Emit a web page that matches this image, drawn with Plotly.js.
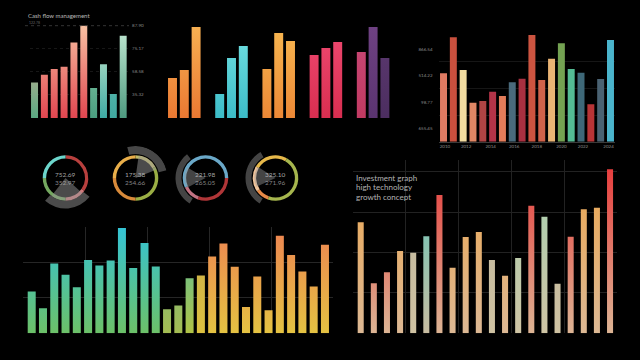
<!DOCTYPE html>
<html><head><meta charset="utf-8">
<script src="https://cdn.plot.ly/plotly-3.0.1.min.js"></script>
<style>html,body{margin:0;padding:0;background:#000;}#chart{width:640px;height:360px;}</style>
</head><body><div id="chart"></div>
<script>
// ---------- DATA ----------
// Chart 1: Cash flow management
const cashValues = [38.5, 46.8, 53.2, 55.4, 81.7, 100.7, 32.4, 58.3, 25.9, 89.2];
const cashTickVals = [100, 75.5, 50.4, 25.2];
const cashTickText = ['87.90', '75.17', '58.58', '35.32'];
// Chart 2: grouped bars
const groupOne = [40, 48, 91];
const groupTwo = [24, 60, 72];
const groupThree = [49, 85, 77];
const groupFour = [63, 70, 76];
const groupFive = [66, 91, 60];
// Chart 3: yearly bars
const yearlyValues = [205, 313, 215, 117, 122, 150, 137, 178, 189, 340, 185, 249, 295, 218, 207, 112, 188, 305];
const yearTickPos = [0.15, 2.3, 4.8, 7.2, 9.5, 12.0, 14.2, 16.8];
const yearTickText = ['2010', '2012', '2014', '2016', '2018', '2020', '2022', '2024'];
const yearlyTickVals = [278, 198, 118, 40];
const yearlyTickText = ['866.54', '514.22', '98.77', '655.45'];
// Donuts
const donut1Values = [34.7, 15.3, 25, 25];
const donut2Values = [16.7, 33.3, 25, 25];
const donut3Values = [30.6, 12.5, 56.9];
const donut4Values = [25, 47.2, 9.7, 18.1];
const donutTopLabels = ['752.69', '175.38', '221.98', '325.10'];
const donutBottomLabels = ['352.97', '254.66', '265.05', '271.96'];
// Chart 5: growth bars (bottom left)
const growthValues = [125, 75, 209, 175, 138, 219, 203, 218, 315, 195, 270, 200, 72, 83, 165, 173, 230, 269, 199, 79, 170, 69, 292, 234, 185, 140, 265];
// Chart 6: investment graph (bottom right)
const investValues = [333, 150, 183, 247, 242, 291, 415, 197, 289, 304, 220, 173, 226, 383, 350, 149, 290, 372, 377, 492];
const investTitleLines = ['Investment graph', 'high technology', 'growth concept'];

// ---------- STYLE ----------
const cashTop = ['#f6b49c', '#f8bea0', '#f8bea0', '#f8bea0', '#f8bea0', '#f8c0a2', '#98d4b0', '#d8f0d2', '#74c8b8', '#c4ead4'];
const cashBot = ['#5aa882', '#e04650', '#e04650', '#e04650', '#e04650', '#e04650', '#4a9e80', '#3eaaa4', '#40a8a0', '#4e9a80'];
const groupTop = ['#f8b454', '#78e4e4', '#f8ba52', '#f04c74', '#b04878'];
const groupBot = ['#ea7832', '#3cbcc8', '#ec8836', '#d82e50', '#c23a62'];
const groupFiveTop = ['#c84a78', '#704284', '#5e3a72'];
const groupFiveBot = ['#c23a62', '#5a3470', '#4c2e60'];
const yearlyColors = ['#e07a62', '#c9503e', '#f2dca0', '#e08664', '#b04444', '#b43448', '#e27c5a', '#4a6a7c', '#a83040', '#cc5440', '#d0624a', '#eab474', '#74a252', '#54bc94', '#3e6878', '#b83436', '#4a6272', '#4ab4cc'];
const growthTop = [];
const growthBot = [];
for (let i = 0; i < growthValues.length; i++) {
  if (i < 12) { growthTop.push('#34c4d6'); growthBot.push('#6cc068'); }
  else if (i < 14) { growthTop.push('#6cb890'); growthBot.push('#a4bc52'); }
  else if (i === 14) { growthTop.push('#4cc0a8'); growthBot.push('#b0c246'); }
  else if (i === 15) { growthTop.push('#c8ac4a'); growthBot.push('#dcc040'); }
  else { growthTop.push('#ee8452'); growthBot.push('#e4c242'); }
}
const investFamily = ['O','R','R','O','S','T','R','O','O','O','S','O','G','R','G','S','R','O','O','R'];
const famTop = {O:'#eea64c', R:'#e8383a', S:'#bcb49c', T:'#52c8c0', G:'#a4d4b4'};
const famBot = {O:'#dcb894', R:'#dcb494', S:'#cfc2a2', T:'#c8bca0', G:'#cfc4a4'};
const donutColors = [
  ['#b8403e', '#d07a7c', '#74a860', '#6cd6cc'],
  ['#c4bc66', '#9aae44', '#d88a3a', '#e8ae4a'],
  ['#b03638', '#c27282', '#6aa8c8'],
  ['#e6b84a', '#a6b64e', '#e88a46', '#f0c49a']
];
const donutStart = [0, 0, 90, 300];
const donutCenters = [65.5, 135.5, 205.5, 275.5];
const donutCY = 178;
const wedges = [
  [{a0:132, a1:218, r0:0, r1:22.8, c:'rgba(150,150,150,0.5)'}, {a0:128, a1:222, r0:22.8, r1:30.5, c:'rgba(100,100,100,0.75)'}],
  [{a0:8, a1:68, r0:0, r1:22.8, c:'rgba(150,150,150,0.5)'}, {a0:-15, a1:76, r0:24, r1:32, c:'rgba(95,95,95,0.75)'}],
  [{a0:242, a1:300, r0:0, r1:21, c:'rgba(150,150,150,0.45)'}, {a0:212, a1:322, r0:24, r1:30, c:'rgba(85,85,85,0.8)'}],
  [{a0:245, a1:302, r0:0, r1:21, c:'rgba(150,150,150,0.45)'}, {a0:212, a1:330, r0:24, r1:30, c:'rgba(85,85,85,0.8)'}]
];

const W = 640, H = 360;
const px = v => v / W;
const py = v => 1 - v / H;

const data = [];
const gradients = {};

// Chart 1
data.push({type:'bar', x: cashValues.map((_, i) => i), y: cashValues, xaxis:'x', yaxis:'y', width:0.71,
  marker:{color:'#e06060', line:{width:0}}, cliponaxis:false});
gradients[data.length - 1] = {axis:'yaxis', top: cashTop, bot: cashBot};

// Chart 2
[groupOne, groupTwo, groupThree, groupFour, groupFive].forEach((grp, g) => {
  data.push({type:'bar', x: grp.map((_, j) => g * 4 + j), y: grp, xaxis:'x2', yaxis:'y2', width:0.76,
    marker:{color: groupTop[g], line:{width:0}}, cliponaxis:false});
  gradients[data.length - 1] = g === 4
    ? {axis:'yaxis2', top: groupFiveTop, bot: groupFiveBot}
    : {axis:'yaxis2', top: grp.map(() => groupTop[g]), bot: grp.map(() => groupBot[g])};
});

// Chart 3
data.push({type:'bar', x: yearlyValues.map((_, i) => i), y: yearlyValues, xaxis:'x3', yaxis:'y3', width:0.71,
  marker:{color: yearlyColors, line:{width:0}}, cliponaxis:false});

// Chart 5
data.push({type:'bar', x: growthValues.map((_, i) => i), y: growthValues, xaxis:'x4', yaxis:'y4', width:0.71,
  marker:{color:'#40c0c0', line:{width:0}}, cliponaxis:false});
gradients[data.length - 1] = {axis:'yaxis4', top: growthTop, bot: growthBot};

// Chart 6
data.push({type:'bar', x: investValues.map((_, i) => i), y: investValues, xaxis:'x5', yaxis:'y5', width:0.46,
  marker:{color:'#e0a050', line:{width:0}}, cliponaxis:false});
gradients[data.length - 1] = {axis:'yaxis5', top: investFamily.map(f => famTop[f]), bot: investFamily.map(f => famBot[f])};

// Donuts
const donutSets = [donut1Values, donut2Values, donut3Values, donut4Values];
const polars = {};
donutSets.forEach((vals, d) => {
  const name = d === 0 ? 'polar' : 'polar' + (d + 1);
  const cx = donutCenters[d];
  polars[name] = {
    domain:{x:[px(cx - 32), px(cx + 32)], y:[py(donutCY + 32), py(donutCY - 32)]},
    bgcolor:'rgba(0,0,0,0)',
    radialaxis:{visible:false, range:[0, 32]},
    angularaxis:{visible:false, rotation:90, direction:'clockwise'}
  };
  const total = vals.reduce((a, b) => a + b, 0);
  let acc = donutStart[d];
  const theta = [], width = [];
  vals.forEach(v => { const w = v / total * 360; theta.push(acc + w / 2); width.push(w); acc += w; });
  data.push({type:'barpolar', subplot:name, theta: theta, width: width, r: vals.map(() => 3.4), base: vals.map(() => 19.4),
    marker:{color: donutColors[d], line:{width:0}}});
  const wd = wedges[d];
  data.push({type:'barpolar', subplot:name, theta: wd.map(w => (w.a0 + w.a1) / 2), width: wd.map(w => w.a1 - w.a0),
    r: wd.map(w => w.r1 - w.r0), base: wd.map(w => w.r0), marker:{color: wd.map(w => w.c), line:{width:0}}});
});

const hidden = {showgrid:false, zeroline:false, showline:false, showticklabels:false, ticks:'', fixedrange:true};
const annotations = [
  {text:'Cash flow management', x:px(26), y:py(16), xref:'paper', yref:'paper', xanchor:'left', yanchor:'middle', showarrow:false, font:{size:6, color:'#b8b8b8'}},
  {text:'122.78', x:px(27), y:py(22.5), xref:'paper', yref:'paper', xanchor:'left', yanchor:'middle', showarrow:false, font:{size:3.5, color:'#666'}}
];
investTitleLines.forEach((t, k) => annotations.push({text:t, x:px(354), y:py(178 + k * 9.3), xref:'paper', yref:'paper', xanchor:'left', yanchor:'middle',
  showarrow:false, font:{size:8, color:'#b4b4b4', family:'Lato, sans-serif'}}));
donutCenters.forEach((cx, d) => {
  annotations.push({text: donutTopLabels[d], x:px(cx), y:py(174), xref:'paper', yref:'paper', xanchor:'center', yanchor:'middle', showarrow:false, font:{size:6.5, color:'rgba(205,205,205,0.8)'}});
  annotations.push({text: donutBottomLabels[d], x:px(cx), y:py(182), xref:'paper', yref:'paper', xanchor:'center', yanchor:'middle', showarrow:false, font:{size:6.5, color:'rgba(205,205,205,0.65)'}});
});

const shapes = [
  {type:'line', xref:'paper', yref:'paper', x0:px(25), x1:px(129), y0:py(25.7), y1:py(25.7), line:{color:'#4a4a4a', width:0.7, dash:'dot'}}
];

const layout = Object.assign({
  width:W, height:H, margin:{l:0, r:0, t:0, b:0}, paper_bgcolor:'#000', plot_bgcolor:'rgba(0,0,0,0)',
  showlegend:false, barmode:'overlay', hovermode:false, font:{family:'Lato, sans-serif', color:'#888'},
  annotations: annotations, shapes: shapes,
  xaxis: Object.assign({}, hidden, {domain:[px(29.6), px(128.1)], range:[-0.5, 9.5], anchor:'y'}),
  yaxis: Object.assign({}, hidden, {domain:[py(118), py(25.7)], range:[0, 100], anchor:'x', side:'right',
    showticklabels:true, tickvals: cashTickVals, ticktext: cashTickText, tickfont:{size:4.5, color:'#8c8c8c'},
    showgrid:true, gridcolor:'#262626', griddash:'dot', gridwidth:0.6, ticklabelstandoff:3}),
  xaxis2: Object.assign({}, hidden, {domain:[px(166.6), px(390.8)], range:[-0.5, 18.5], anchor:'y2'}),
  yaxis2: Object.assign({}, hidden, {domain:[py(118), py(20)], range:[0, 98], anchor:'x2'}),
  xaxis3: Object.assign({}, hidden, {domain:[px(438.6), px(615.4)], range:[-0.5, 17.5], anchor:'y3',
    showticklabels:true, tickvals: yearTickPos, ticktext: yearTickText, tickfont:{size:4.5, color:'#8c8c8c'},
    showline:true, linecolor:'#3a3a3a', linewidth:1}),
  yaxis3: Object.assign({}, hidden, {domain:[py(141.7), py(35)], range:[0, 320], anchor:'x3',
    showticklabels:true, tickvals: yearlyTickVals, ticktext: yearlyTickText, tickfont:{size:4.5, color:'#8c8c8c'}, ticklabelstandoff:5,
    minor:{tickvals:[80, 160, 240, 320], showgrid:true, gridcolor:'#1c1c1c', gridwidth:0.8}}),
  xaxis4: Object.assign({}, hidden, {domain:[px(23.3), px(333.3)], range:[-0.745, 26.74], anchor:'y4',
    tickvals:[-0.745, 4.75, 10.25, 15.745, 21.24, 26.74], showgrid:true, gridcolor:'#262626', gridwidth:1}),
  yaxis4: Object.assign({}, hidden, {domain:[py(333.3), py(227)], range:[0, 318], anchor:'x4',
    tickvals:[0, 106, 212, 318], showgrid:true, gridcolor:'#262626', gridwidth:1}),
  xaxis5: Object.assign({}, hidden, {domain:[px(352.7), px(617)], range:[-0.61, 19.53], anchor:'y5',
    tickvals:[-0.61, 3.418, 7.446, 11.474, 15.502, 19.53], showgrid:true, gridcolor:'#222', gridwidth:1}),
  yaxis5: Object.assign({}, hidden, {domain:[py(333.3), py(160)], range:[0, 520], anchor:'x5',
    tickvals:[0, 121, 242, 363, 485], showgrid:true, gridcolor:'#222', gridwidth:1})
}, polars);

Plotly.newPlot('chart', data, layout, {staticPlot:true, displayModeBar:false}).then(gd => {
  const NS = 'http://www.w3.org/2000/svg';
  const defs = gd.querySelector('.main-svg defs');
  gd.querySelectorAll('.barlayer .trace').forEach(tr => {
    const cd = tr.__data__;
    if (!cd || !cd[0] || !cd[0].trace) return;
    const tIdx = cd[0].trace.index;
    const g = gradients[tIdx];
    if (!g) return;
    const len = gd._fullLayout[g.axis]._length;
    tr.querySelectorAll('.point').forEach((pt, k) => {
      const di = pt.__data__;
      let i = cd.indexOf(di);
      if (i < 0) i = k;
      const id = 'grad-' + tIdx + '-' + i;
      const lg = document.createElementNS(NS, 'linearGradient');
      lg.setAttribute('id', id);
      lg.setAttribute('gradientUnits', 'userSpaceOnUse');
      lg.setAttribute('x1', 0); lg.setAttribute('y1', 0);
      lg.setAttribute('x2', 0); lg.setAttribute('y2', len);
      const s1 = document.createElementNS(NS, 'stop');
      s1.setAttribute('offset', '0'); s1.setAttribute('stop-color', g.top[i]);
      const s2 = document.createElementNS(NS, 'stop');
      s2.setAttribute('offset', '1'); s2.setAttribute('stop-color', g.bot[i]);
      lg.appendChild(s1); lg.appendChild(s2);
      defs.appendChild(lg);
      const path = pt.querySelector('path');
      if (path) path.style.fill = 'url(#' + id + ')';
    });
  });
});
</script>
</body></html>
